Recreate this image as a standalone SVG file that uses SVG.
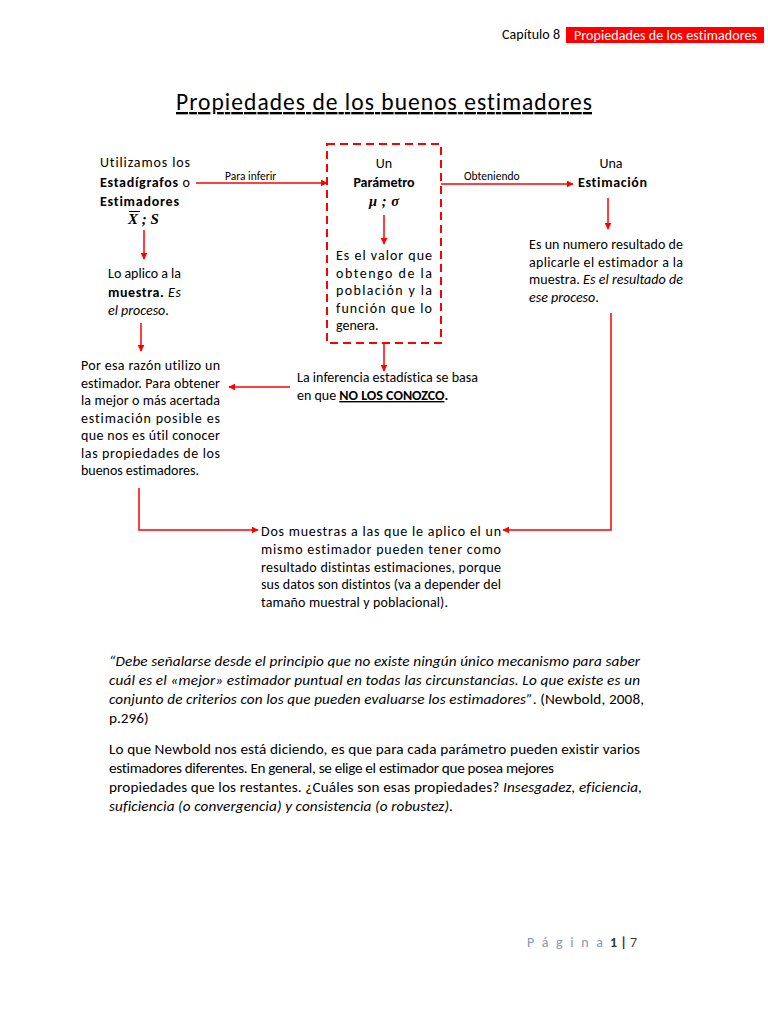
<svg xmlns="http://www.w3.org/2000/svg" width="768" height="1024" viewBox="0 0 768 1024">
<style>
text{font-family:Carlito,Lato,"Open Sans",sans-serif;fill:#000;font-variant-ligatures:none;font-feature-settings:"liga" 0,"clig" 0}
.d{font-size:14px}
.b{font-size:15.2px}
.s{font-size:11.5px}
.bo{font-weight:bold}
.it{font-style:italic}
.m{font-family:"Liberation Serif",serif;font-weight:bold;font-style:italic;font-size:15px}
.ar{stroke:#ff0000;stroke-width:1.5;fill:none}
</style>
<defs>
<marker id="ah" viewBox="0 0 10 10" refX="9" refY="5" markerWidth="7" markerHeight="7" markerUnits="userSpaceOnUse" orient="auto">
<path d="M0,0 L10,5 L0,10 z" fill="#ff0000"/>
</marker>
</defs>
<rect width="768" height="1024" fill="#fff"/>

<g id="header">
<text x="502" y="39" class="d" textLength="58">Capítulo 8</text>
<rect x="566" y="27" width="198" height="16" fill="#ff0000"/>
<text x="574" y="40" class="d" style="fill:#fff" textLength="183">Propiedades de los estimadores</text>
</g>

<g id="title">
<text x="176" y="110" style="font-size:23.5px" textLength="416" text-decoration="underline">Propiedades de los buenos estimadores</text>
</g>

<g id="node-estadigrafos">
<text x="100" y="167" class="d" textLength="90">Utilizamos  los</text>
<text x="100" y="187" class="d" textLength="90"><tspan class="bo">Estadígrafos</tspan> o</text>
<text x="100" y="206" class="d bo" textLength="79">Estimadores</text>
<text x="128" y="224" class="m">X ; S</text>
<line x1="129" y1="211.5" x2="140" y2="211.5" stroke="#000" stroke-width="1"/>
</g>

<g id="node-parametro">
<rect x="327" y="144" width="114" height="199" fill="none" stroke="#ff0000" stroke-width="2" stroke-dasharray="8,5"/>
<text x="384" y="168" class="d" text-anchor="middle">Un</text>
<text x="384" y="187" class="d bo" text-anchor="middle">Parámetro</text>
<text x="369" y="206" class="m" style="font-size:14.5px" textLength="30">μ ; σ</text>
<text x="336" y="260" class="d" textLength="96">Es el valor que</text>
<text x="336" y="277.5" class="d" textLength="96">obtengo de la</text>
<text x="336" y="295" class="d" textLength="96">población y la</text>
<text x="336" y="312.5" class="d" textLength="96">función que lo</text>
<text x="336" y="330" class="d">genera.</text>
</g>

<g id="node-estimacion">
<text x="611" y="168" class="d" text-anchor="middle">Una</text>
<text x="578" y="187" class="d bo" textLength="69">Estimación</text>
</g>

<g id="node-numero">
<text x="529" y="249" class="d" textLength="154">Es un numero resultado de</text>
<text x="529" y="266.5" class="d" textLength="154">aplicarle el estimador a la</text>
<text x="529" y="284" class="d" textLength="154">muestra. <tspan class="it">Es el resultado de</tspan></text>
<text x="529" y="301.5" class="d"><tspan class="it">ese proceso</tspan>.</text>
</g>

<g id="node-aplico">
<text x="108" y="278" class="d" textLength="73">Lo aplico a la</text>
<text x="108" y="297" class="d" textLength="73"><tspan class="bo">muestra.</tspan>  <tspan class="it">Es</tspan></text>
<text x="108" y="315" class="d"><tspan class="it">el proceso</tspan>.</text>
</g>

<g id="node-razon">
<text x="81" y="370" class="d" textLength="139">Por esa razón utilizo un</text>
<text x="81" y="387.5" class="d" textLength="139">estimador. Para obtener</text>
<text x="81" y="405" class="d" textLength="139">la mejor o más acertada</text>
<text x="81" y="422.5" class="d" textLength="139">estimación posible es</text>
<text x="81" y="440" class="d" textLength="139">que nos es útil conocer</text>
<text x="81" y="457.5" class="d" textLength="139">las propiedades de los</text>
<text x="81" y="475" class="d" textLength="118">buenos estimadores.</text>
</g>

<g id="node-inferencia">
<text x="297" y="382" class="d" textLength="181">La inferencia estadística se basa</text>
<text x="297" y="400" class="d">en que <tspan class="bo" text-decoration="underline">NO LOS CONOZCO</tspan><tspan class="bo">.</tspan></text>
</g>

<g id="node-dos-muestras">
<text x="261" y="536" class="d" textLength="240">Dos muestras a las que le aplico el un</text>
<text x="261" y="554" class="d" textLength="240">mismo estimador pueden tener como</text>
<text x="261" y="571.5" class="d" textLength="240">resultado distintas estimaciones, porque</text>
<text x="261" y="589" class="d" textLength="240">sus datos son distintos (va a depender del</text>
<text x="261" y="606.5" class="d" textLength="187">tamaño muestral y poblacional).</text>
</g>

<g id="connectors">
<line x1="196" y1="183" x2="327" y2="183" class="ar" marker-end="url(#ah)"/>
<text x="225" y="180" class="s">Para inferir</text>
<line x1="441" y1="184" x2="573" y2="184" class="ar" marker-end="url(#ah)"/>
<text x="464" y="180" class="s">Obteniendo</text>
<line x1="144" y1="230" x2="144" y2="259" class="ar" marker-end="url(#ah)"/>
<line x1="384" y1="215" x2="384" y2="244" class="ar" marker-end="url(#ah)"/>
<line x1="608" y1="198" x2="608" y2="229" class="ar" marker-end="url(#ah)"/>
<line x1="141" y1="323" x2="141" y2="351" class="ar" marker-end="url(#ah)"/>
<line x1="384" y1="343" x2="384" y2="371" class="ar" marker-end="url(#ah)"/>
<line x1="290" y1="387" x2="229" y2="387" class="ar" marker-end="url(#ah)"/>
<path d="M139,488 V530 H258" class="ar" marker-end="url(#ah)"/>
<path d="M611,313 V530 H503" class="ar" marker-end="url(#ah)"/>
</g>

<g id="quote">
<text x="109" y="666" class="b it" textLength="531">“Debe señalarse desde el principio que no existe ningún único mecanismo para saber</text>
<text x="109" y="685" class="b it" textLength="531">cuál es el «mejor» estimador puntual en todas las circunstancias. Lo que existe es un</text>
<text x="109" y="704" class="b" textLength="535"><tspan class="it">conjunto de criterios con los que pueden evaluarse los estimadores”</tspan>. (Newbold, 2008,</text>
<text x="109" y="723" class="b">p.296)</text>
</g>

<g id="paragraph">
<text x="109" y="754" class="b" textLength="531">Lo que Newbold nos está diciendo, es que para cada parámetro pueden existir varios</text>
<text x="109" y="773" class="b" textLength="445">estimadores diferentes. En general, se elige el estimador que posea mejores</text>
<text x="109" y="792" class="b" textLength="533">propiedades que los restantes. ¿Cuáles son esas propiedades? <tspan class="it">Insesgadez, eficiencia,</tspan></text>
<text x="109" y="811" class="b it" textLength="344">suficiencia (o convergencia) y consistencia (o robustez).</text>
</g>

<g id="footer">
<text x="527" y="947" class="d" style="fill:#8496b0" textLength="76">Página</text>
<text x="610" y="947" class="d" style="fill:#333"><tspan class="bo">1</tspan> <tspan class="bo">|</tspan> 7</text>
</g>
</svg>
